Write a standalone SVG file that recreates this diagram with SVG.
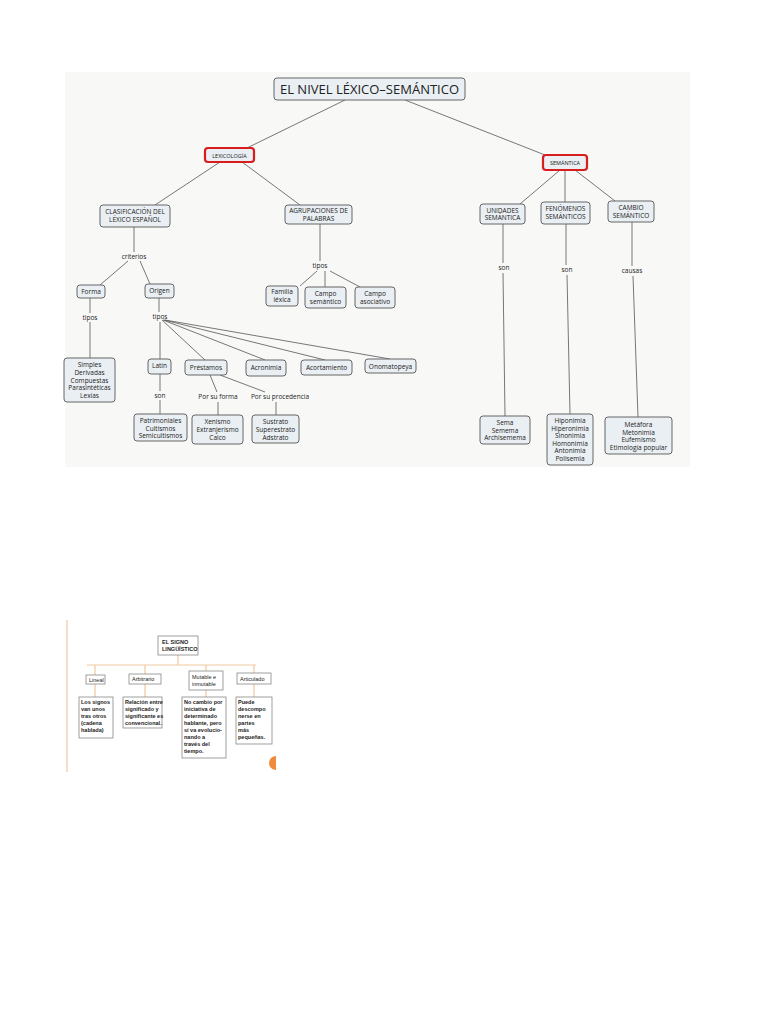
<svg xmlns="http://www.w3.org/2000/svg" width="768" height="1024" viewBox="0 0 768 1024">
<style>
.n{fill:#e9eff2;stroke:#666;stroke-width:1}
.r{fill:#e9eff2;stroke:#d91c1c;stroke-width:2.2}
text{font-family:"Open Sans","DejaVu Sans",sans-serif;font-size:6.5px;fill:#222;text-anchor:middle}
.l{fill:none;stroke:#555;stroke-width:0.8}
.b{fill:#fff;stroke:#888;stroke-width:0.8}
.o{fill:none;stroke:#f0c9a0;stroke-width:1.2}
.s{font-family:"Liberation Sans",Arial,sans-serif;font-size:5.5px;font-weight:bold;text-anchor:start}
</style>
<rect width="768" height="1024" fill="#fff"/>
<rect x="65" y="72" width="625" height="395" fill="#f8f8f7"/>
<g id="connectors">
<path class="l" d="M345 100L247 148M405 100L545 155M220 162L155 205M242 162L300 205M560 170L520 204M565 170L565 202M575 170L615 201M134 227V252M128 261L100 285M140 261L150 284M90 298V313M90 322V358M159 298V312M160 322V359M162 320L205 360M163 320L265 360M164 320L325 360M165 320L390 359M160 374V391M160 400V414M210 375L217 392M220 375L265 392M218 402V415M276 402V415M320 224V261M317 271L300 286M325 271L325 287M330 271L360 287M503 224V263M503 273L505 416M566 224V265M567 275L570 414M632 222V266M633 276L638 417"/>
</g>
<g id="title"><rect class="n" x="274" y="78" width="191" height="22" rx="3"/><text x="369.5" y="94" style="font-size:13px">EL NIVEL LÉXICO–SEMÁNTICO</text></g>
<g id="lexicologia"><rect class="r" x="205" y="148" width="49" height="14" rx="3"/><text x="229.5" y="157.5" style="font-size:5.5px">LEXICOLOGÍA</text></g>
<g id="semantica"><rect class="r" x="543" y="155" width="44" height="15" rx="3"/><text x="565" y="165" style="font-size:5.5px">SEMÁNTICA</text></g>
<g id="clasificacion"><rect class="n" x="100" y="205" width="70" height="22" rx="3"/><text x="135" y="214">CLASIFICACIÓN DEL</text><text x="135" y="222">LÉXICO ESPAÑOL</text></g>
<g id="agrupaciones"><rect class="n" x="285" y="205" width="67" height="19" rx="3"/><text x="318.5" y="213">AGRUPACIONES DE</text><text x="318.5" y="220.5">PALABRAS</text></g>
<text x="134" y="259">criterios</text>
<g id="forma"><rect class="n" x="77" y="285" width="28" height="13" rx="3"/><text x="91" y="294">Forma</text></g>
<g id="origen"><rect class="n" x="145" y="284" width="29" height="14" rx="3"/><text x="159.5" y="293">Origen</text></g>
<text x="90" y="320">tipos</text>
<text x="160" y="319">tipos</text>
<g id="simples"><rect class="n" x="64" y="358" width="51" height="44" rx="3"/><text x="89.5" y="367">Simples</text><text x="89.5" y="375">Derivadas</text><text x="89.5" y="383">Compuestas</text><text x="89.5" y="390">Parasintéticas</text><text x="89.5" y="398">Lexías</text></g>
<g id="latin"><rect class="n" x="148" y="359" width="23" height="15" rx="3"/><text x="159.5" y="368">Latín</text></g>
<g id="prestamos"><rect class="n" x="185" y="360" width="42" height="15" rx="3"/><text x="206" y="369.5">Préstamos</text></g>
<g id="acronimia"><rect class="n" x="246" y="360" width="40" height="16" rx="3"/><text x="266" y="370">Acronimia</text></g>
<g id="acortamiento"><rect class="n" x="301" y="360" width="51" height="15" rx="3"/><text x="326.5" y="369.5">Acortamiento</text></g>
<g id="onomatopeya"><rect class="n" x="365" y="359" width="51" height="14" rx="3"/><text x="390.5" y="368.5">Onomatopeya</text></g>
<text x="160" y="398">son</text>
<text x="218" y="399">Por su forma</text>
<text x="280" y="399">Por su procedencia</text>
<g id="patrimoniales"><rect class="n" x="134" y="414" width="53" height="27" rx="3"/><text x="160.5" y="423">Patrimoniales</text><text x="160.5" y="430.5">Cultismos</text><text x="160.5" y="438">Semicultismos</text></g>
<g id="xenismo"><rect class="n" x="192" y="415" width="51" height="29" rx="3"/><text x="217.5" y="424">Xenismo</text><text x="217.5" y="432">Extranjerismo</text><text x="217.5" y="440">Calco</text></g>
<g id="sustrato"><rect class="n" x="252" y="415" width="47" height="28" rx="3"/><text x="275.5" y="424">Sustrato</text><text x="275.5" y="432">Superestrato</text><text x="275.5" y="440">Adstrato</text></g>
<text x="320" y="268">tipos</text>
<g id="familia"><rect class="n" x="266" y="286" width="32" height="20" rx="3"/><text x="282" y="294">Familia</text><text x="282" y="302">léxica</text></g>
<g id="campo-sem"><rect class="n" x="305" y="287" width="41" height="21" rx="3"/><text x="325.5" y="296">Campo</text><text x="325.5" y="304">semántico</text></g>
<g id="campo-asoc"><rect class="n" x="355" y="287" width="40" height="21" rx="3"/><text x="375" y="296">Campo</text><text x="375" y="304">asociativo</text></g>
<g id="unidades"><rect class="n" x="480" y="204" width="45" height="20" rx="3"/><text x="502.5" y="212.5">UNIDADES</text><text x="502.5" y="220">SEMÁNTICA</text></g>
<g id="fenomenos"><rect class="n" x="541" y="202" width="49" height="22" rx="3"/><text x="565.5" y="211">FENÓMENOS</text><text x="565.5" y="219">SEMÁNTICOS</text></g>
<g id="cambio"><rect class="n" x="608" y="201" width="46" height="21" rx="3"/><text x="631" y="209.5">CAMBIO</text><text x="631" y="217.5">SEMÁNTICO</text></g>
<text x="504" y="270">son</text>
<text x="567" y="272">son</text>
<text x="632" y="273">causas</text>
<g id="sema"><rect class="n" x="480" y="416" width="50" height="28" rx="3"/><text x="505" y="425">Sema</text><text x="505" y="432.5">Semema</text><text x="505" y="440">Archisemema</text></g>
<g id="hiponimia"><rect class="n" x="547" y="414" width="46" height="51" rx="3"/><text x="570" y="423">Hiponimia</text><text x="570" y="430.5">Hiperonimia</text><text x="570" y="438">Sinonimia</text><text x="570" y="445.5">Homonimia</text><text x="570" y="453">Antonimia</text><text x="570" y="460.5">Polisemia</text></g>
<g id="metafora"><rect class="n" x="605" y="417" width="67" height="37" rx="3"/><text x="638.5" y="427">Metáfora</text><text x="638.5" y="434.5">Metonimia</text><text x="638.5" y="442">Eufemismo</text><text x="638.5" y="449.5">Etimología popular</text></g>
<g id="signo-connectors"><path class="o" d="M67 620V772M178 655V665M87 665H256M95 665V675M145 665V674M206 665V671M254 665V673M95 684V697M145 684V697M206 690V697M254 684V697"/></g>
<g id="signo"><rect class="b" x="158" y="636" width="40" height="19"/><text class="s" x="162" y="644">EL SIGNO</text><text class="s" x="162" y="651">LINGÜÍSTICO</text></g>
<g id="lineal"><rect class="b" x="86" y="675" width="19" height="9"/><text class="s" x="89" y="681.5" style="font-weight:normal">Lineal</text></g>
<g id="arbitrario"><rect class="b" x="129" y="674" width="32" height="10"/><text class="s" x="132" y="681" style="font-weight:normal">Arbitrario</text></g>
<g id="mutable"><rect class="b" x="189" y="671" width="34" height="19"/><text class="s" x="192" y="679" style="font-weight:normal">Mutable e</text><text class="s" x="192" y="686" style="font-weight:normal">inmutable</text></g>
<g id="articulado"><rect class="b" x="237" y="673" width="34" height="11"/><text class="s" x="240" y="680.5" style="font-weight:normal">Articulado</text></g>
<g id="t1"><rect class="b" x="79" y="697" width="34" height="41"/><text class="s" x="81" y="704">Los signos</text><text class="s" x="81" y="711">van unos</text><text class="s" x="81" y="718">tras otros</text><text class="s" x="81" y="725">(cadena</text><text class="s" x="81" y="732">hablada)</text></g>
<g id="t2"><rect class="b" x="123" y="697" width="39" height="31"/><text class="s" x="125" y="704">Relación entre</text><text class="s" x="125" y="711">significado y</text><text class="s" x="125" y="718">significante es</text><text class="s" x="125" y="725">convencional.</text></g>
<g id="t3"><rect class="b" x="182" y="697" width="44" height="61"/><text class="s" x="184" y="704">No cambio por</text><text class="s" x="184" y="711">iniciativa de</text><text class="s" x="184" y="718">determinado</text><text class="s" x="184" y="725">hablante, pero</text><text class="s" x="184" y="732">sí va evolucio-</text><text class="s" x="184" y="739">nando a</text><text class="s" x="184" y="746">través del</text><text class="s" x="184" y="753">tiempo.</text></g>
<g id="t4"><rect class="b" x="236" y="697" width="36" height="47"/><text class="s" x="238" y="704">Puede</text><text class="s" x="238" y="711">descompo</text><text class="s" x="238" y="718">nerse en</text><text class="s" x="238" y="725">partes</text><text class="s" x="238" y="732">más</text><text class="s" x="238" y="739">pequeñas.</text></g>
<path d="M276 756A7 7 0 0 0 276 770Z" fill="#f08a3c"/>
</svg>
